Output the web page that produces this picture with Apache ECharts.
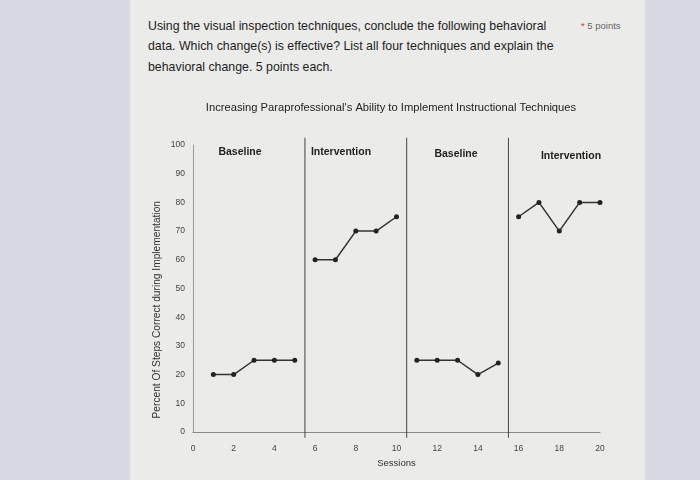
<!DOCTYPE html>
<html>
<head>
<meta charset="utf-8">
<script src="https://cdn.jsdelivr.net/npm/echarts@6/dist/echarts.min.js"></script>
<style>
  html, body { margin: 0; padding: 0; }
  body { width: 700px; height: 480px; background: #d9d9e3; position: relative; overflow: hidden;
         font-family: "Liberation Sans", Arial, sans-serif; }
  #card { position: absolute; left: 130px; top: 0; width: 515px; height: 480px; background: #ebebe9; }
  .q { position: absolute; left: 148px; font-size: 13.5px; color: #1e1e1e; white-space: nowrap;
       transform: scaleX(0.915); transform-origin: left top; }
  #pts { position: absolute; left: 581px; top: 20px; font-size: 9.5px; color: #666; white-space: nowrap; }
  #pts b { color: #c33; font-weight: normal; }
  #chart { position: absolute; left: 0; top: 0; width: 700px; height: 480px; }
</style>
</head>
<body>
<div id="card"></div>
<div class="q" style="top:18px">Using the visual inspection techniques, conclude the following behavioral</div>
<div class="q" style="top:38px">data. Which change(s) is effective? List all four techniques and explain the</div>
<div class="q" style="top:59px">behavioral change. 5 points each.</div>
<div id="pts"><b>*</b> 5 points</div>
<div id="chart"></div>
<script>
// Sessions and percent of steps correct, one array per phase
const baseline1 = [[1, 20], [2, 20], [3, 25], [4, 25], [5, 25]];
const intervention1 = [[6, 60], [7, 60], [8, 70], [9, 70], [10, 75]];
const baseline2 = [[11, 25], [12, 25], [13, 25], [14, 20], [15, 24]];
const intervention2 = [[16, 75], [17, 80], [18, 70], [19, 80], [20, 80]];

// Phase change lines sit between sessions
const phaseChanges = [5.5, 10.5, 15.5];
const phaseNames = ['Baseline', 'Intervention', 'Baseline', 'Intervention'];

const chart = echarts.init(document.getElementById('chart'));

function dataSeries(points) {
    return {
        type: 'line',
        data: points,
        symbol: 'circle',
        symbolSize: 5,
        lineStyle: { color: '#333', width: 1.5 },
        itemStyle: { color: '#222' },
        z: 3
    };
}

function phaseLine(x) {
    return {
        type: 'line',
        data: [[x, -2], [x, 102.5]],
        symbol: 'none',
        clip: false,
        lineStyle: { color: '#444', width: 1 },
        silent: true,
        z: 2
    };
}

const series = [baseline1, intervention1, baseline2, intervention2].map(dataSeries)
    .concat(phaseChanges.map(phaseLine));

// Phase label positions (pixels)
const labelPos = [[240, 152], [341, 152], [456, 154], [571, 156]];

chart.setOption({
    animation: false,
    textStyle: { fontFamily: 'Liberation Sans, Arial, sans-serif' },
    title: {
        text: "Increasing Paraprofessional's Ability to Implement Instructional Techniques",
        left: 386, top: 97, textAlign: 'center',
        textStyle: { fontSize: 11.2, fontWeight: 'normal', color: '#222' }
    },
    grid: { left: 193, right: 100, top: 145, bottom: 48 },
    xAxis: {
        type: 'value', min: 0, max: 20, interval: 2,
        name: 'Sessions', nameLocation: 'middle', nameGap: 23,
        nameTextStyle: { fontSize: 9.5, color: '#333' },
        axisLine: { lineStyle: { color: '#888' } },
        axisTick: { show: false },
        splitLine: { show: false },
        axisLabel: { fontSize: 8.5, color: '#444', margin: 12 }
    },
    yAxis: {
        type: 'value', min: 0, max: 100, interval: 10,
        axisLine: { show: true, lineStyle: { color: '#999' } },
        axisTick: { show: false },
        splitLine: { show: false },
        axisLabel: { fontSize: 8.5, color: '#444', margin: 8 }
    },
    graphic: [{
        type: 'text', left: 152, top: 201, rotation: Math.PI / 2,
        style: { text: 'Percent Of Steps Correct during Implementation', fill: '#333',
                 font: '10.2px Liberation Sans, Arial, sans-serif' }
    }].concat(phaseNames.map((n, i) => ({
        type: 'text', x: labelPos[i][0], y: labelPos[i][1],
        style: { text: n, fontSize: 10.5, fontWeight: 'bold', fill: '#222',
                 align: 'center', verticalAlign: 'middle' }
    }))),
    series: series
});
</script>
</body>
</html>
